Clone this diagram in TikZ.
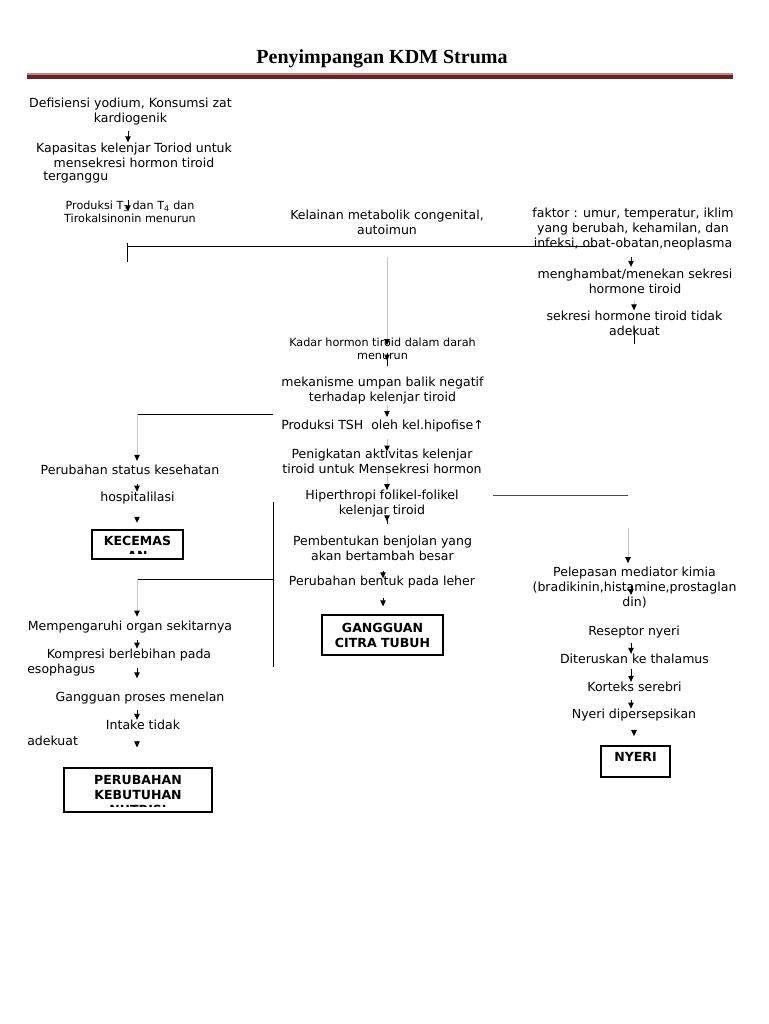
\documentclass[tikz,border=0pt]{standalone}
\usepackage{fontspec}
\setmainfont{DejaVu Sans}
\newfontfamily\titlefont{Liberation Serif}
\usepackage{tikz}
\usetikzlibrary{
    arrows.meta,
}
\definecolor{rulelight}{RGB}{180,140,140}
\definecolor{ruledark}{RGB}{108,32,32}

\begin{document}
\begin{tikzpicture}[
    x=0.75pt, y=-0.75pt,
    >={Triangle[length=4.5pt,width=4pt]},
    txt/.style={align=center, inner sep=0pt, yshift=-1.5pt, font=\fontsize{9.4}{11.25}\selectfont},
    small txt/.style={txt, font=\fontsize{8.4}{10}\selectfont},
    box/.style={draw, line width=0.8pt, inner sep=0pt, align=center, font=\fontsize{9.4}{11.25}\selectfont\bfseries},
    box txt/.style={align=center, inner sep=0pt, font=\fontsize{9.4}{11.25}\selectfont\bfseries},
    link/.style={line width=0.75pt},
    arr/.style={link, ->},
    garr/.style={link, draw=gray!45, -{Triangle[length=4.5pt,width=4pt,color=black]}},
    ]

    \useasboundingbox (0,0) rectangle (768,1024);

    % title and rule
    \node[font=\titlefont\fontsize{15}{18}\selectfont\bfseries] (title) at (382,59) {Penyimpangan KDM Struma};
    \draw[line width=1.5pt, rulelight] (27,74) -- (733,74);
    \draw[line width=3pt, ruledark] (27,77) -- (733,77);

    % arrow columns
    \coordinate (colA) at (128,0);
    \coordinate (colL) at (137,0);
    \coordinate (colM) at (387,0);
    \coordinate (colM2) at (383,0);
    \coordinate (colR) at (631,0);
    \coordinate (colR2) at (634,0);

    % left column, top
    \node[txt] (defisiensi) at (130.5,109.5) {Defisiensi yodium, Konsumsi zat\\kardiogenik};
    \node[txt] (kapasitas) at (134,153) {Kapasitas kelenjar Toriod untuk\\mensekresi hormon tiroid};
    \node[txt, anchor=west] (terganggu) at (43,175) {terganggu};
    \node[small txt] (produksi) at (130,210) {Produksi T\textsubscript{3} dan T\textsubscript{4} dan\\Tirokalsinonin menurun};

    % middle column
    \node[txt] (kelainan) at (387,220) {Kelainan metabolik congenital,\\autoimun};
    \node[small txt] (kadar) at (382.5,346.5) {Kadar hormon tiroid dalam darah\\menurun};
    \node[txt] (umpan) at (382.5,389) {mekanisme umpan balik negatif\\terhadap kelenjar tiroid};
    \node[txt] (tsh) at (382.5,424) {Produksi TSH\ \ oleh kel.hipofise↑};
    \node[txt] (aktivitas) at (382,459.5) {Penigkatan aktivitas kelenjar\\tiroid untuk Mensekresi hormon};
    \node[txt] (hiper) at (382,502) {Hiperthropi folikel-folikel\\kelenjar tiroid};
    \node[txt] (benjolan) at (382.5,546) {Pembentukan benjolan yang\\akan bertambah besar};
    \node[txt] (leher) at (382,580) {Perubahan bentuk pada leher};
    \node[box, minimum width=90.75pt, minimum height=30pt] (citra) at (382.5,635) {GANGGUAN\\CITRA TUBUH};

    % right column
    \node[txt] (faktor) at (633,227) {faktor : umur, temperatur, iklim\\yang berubah, kehamilan, dan\\infeksi, obat-obatan,neoplasma};
    \node[txt] (hambat) at (635,279.5) {menghambat/menekan sekresi\\hormone tiroid};
    \node[txt] (sekresi) at (634.5,321) {sekresi hormone tiroid tidak\\adekuat};
    \node[txt] (mediator) at (634.5,586) {Pelepasan mediator kimia\\(bradikinin,histamine,prostaglan\\din)};
    \node[txt] (reseptor) at (634,630) {Reseptor nyeri};
    \node[txt] (thalamus) at (634.5,657) {Diteruskan ke thalamus};
    \node[txt] (korteks) at (634.5,685) {Korteks serebri};
    \node[txt] (persepsi) at (634,713) {Nyeri dipersepsikan};
    \node[box, minimum width=51.75pt, minimum height=23.25pt] (nyeri) at (635.5,761.5) {};
    \node[box txt, yshift=3.4pt] at (nyeri.center) {NYERI};

    % left column, bottom
    \node[txt] (status) at (130,468) {Perubahan status kesehatan};
    \node[txt] (hospital) at (137.5,496) {hospitalilasi};
    \node[box, minimum width=68.25pt, minimum height=21.75pt] (cemas) at (137.5,544.5) {};
    \begin{scope}
        \clip (93,531) rectangle (182,553.5);
        \node[box txt, yshift=-2.6pt] at (cemas.center) {KECEMAS\\AN};
    \end{scope}
    \node[txt] (organ) at (130,625) {Mempengaruhi organ sekitarnya};
    \node[txt] (kompresi) at (129,653) {Kompresi berlebihan pada};
    \node[txt, anchor=west] (esofagus) at (27,668) {esophagus};
    \node[txt] (menelan) at (140,696) {Gangguan proses menelan};
    \node[txt] (intake) at (143,723) {Intake tidak};
    \node[txt, anchor=west] (adekuat) at (27,739) {adekuat};
    \node[box, minimum width=111pt, minimum height=33pt] (nutrisi) at (138,790) {};
    \begin{scope}
        \clip (65,769) rectangle (211,806.5);
        \node[box txt, yshift=-4.1pt] at (nutrisi.center) {PERUBAHAN\\KEBUTUHAN\\NUTRISI};
    \end{scope}

    % free lines
    \coordinate (topL) at (127,246);
    \coordinate (topR) at (597,246);
    \coordinate (tickA) at (127,243);
    \coordinate (tickB) at (127,262);
    \draw[link] (topL) -- (topR);
    \draw[link] (tickA) -- (tickB);

    \coordinate (tshA) at (273,414);
    \coordinate (tshB) at (137,414);
    \coordinate (trunkT) at (273,502);
    \coordinate (trunkB) at (273,667);
    \coordinate (trunkM) at (273,579);
    \coordinate (trunkL) at (137,579);
    \coordinate (hipA) at (493,495);
    \coordinate (hipB) at (628,495);
    \coordinate (hipC) at (628,528);
    \coordinate (sekEnd) at (634,344);

    % connectors, left
    \draw[arr, shorten <=4.5pt] (defisiensi.south -| colA) -- (kapasitas.north -| colA);
    \draw[arr, shorten <=24pt, shorten >=-8pt] (kapasitas.south -| colA) -- (produksi.north -| colA);
    \draw[link] (tshA) -- (tshB);
    \draw[garr, shorten >=3pt] (tshB) -- (status.north -| tshB);
    \draw[arr, shorten <=7pt] (status.south -| colL) -- (hospital.north -| colL);
    \draw[arr, shorten <=10pt, shorten >=5pt] (hospital.south -| colL) -- (cemas.north -| colL);
    \draw[link] (trunkT) -- (trunkB);
    \draw[link] (trunkM) -- (trunkL);
    \draw[garr, shorten >=3pt] (trunkL) -- (organ.north -| trunkL);
    \draw[arr, shorten <=5pt] (organ.south -| colL) -- (kompresi.north -| colL);
    \draw[arr, shorten <=5pt, shorten >=10pt] (kompresi.south -| colL) -- (menelan.north -| colL);
    \draw[arr, shorten <=4pt] (menelan.south -| colL) -- (intake.north -| colL);
    \draw[arr, shorten <=8pt, shorten >=15pt] (intake.south -| colL) -- (nutrisi.north -| colL);

    % connectors, middle
    \draw[garr, shorten <=16.5pt, shorten >=-6pt] (kelainan.south -| colM) -- (kadar.north -| colM);
    \draw[arr, shorten <=-5pt, shorten >=12.5pt] (kadar.south -| colM) -- (umpan.north -| colM);
    \draw[garr, shorten >=2pt] (umpan.south -| colM) -- (tsh.north -| colM);
    \draw[garr, shorten <=5pt, shorten >=-2pt] (tsh.south -| colM) -- (aktivitas.north -| colM);
    \draw[garr] (aktivitas.south -| colM) -- (hiper.north -| colM);
    \draw[arr, shorten <=-4.5pt, shorten >=10.5pt] (hiper.south -| colM) -- (benjolan.north -| colM);
    \draw[arr, shorten <=8pt, shorten >=-2pt] (benjolan.south -| colM2) -- (leher.north -| colM2);
    \draw[arr, shorten <=7pt, shorten >=6pt] (leher.south -| colM2) -- (citra.north -| colM2);

    % connectors, right
    \draw[arr, shorten <=5pt, shorten >=1.5pt] (faktor.south -| colR) -- (hambat.north -| colR);
    \draw[garr, shorten <=5pt] (hambat.south -| colR2) -- (sekresi.north -| colR2);
    \draw[link, shorten <=-6pt] (sekresi.south -| colR2) -- (sekEnd);
    \draw[link, draw=black!70] (hipA) -- (hipB);
    \draw[garr, shorten >=3pt] (hipC) -- (mediator.north -| hipC);
    \draw[arr, shorten <=-2.25pt, shorten >=23pt] (mediator.center -| colR) -- (reseptor.north -| colR);
    \draw[arr, shorten <=3.5pt] (reseptor.south -| colR) -- (thalamus.north -| colR);
    \draw[arr, shorten <=3.5pt] (thalamus.south -| colR) -- (korteks.north -| colR);
    \draw[arr, shorten <=6pt] (korteks.south -| colR) -- (persepsi.north -| colR);
    \draw[garr, shorten <=6pt, shorten >=7pt] (persepsi.south -| colR2) -- (nyeri.north -| colR2);

\end{tikzpicture}
\end{document}
